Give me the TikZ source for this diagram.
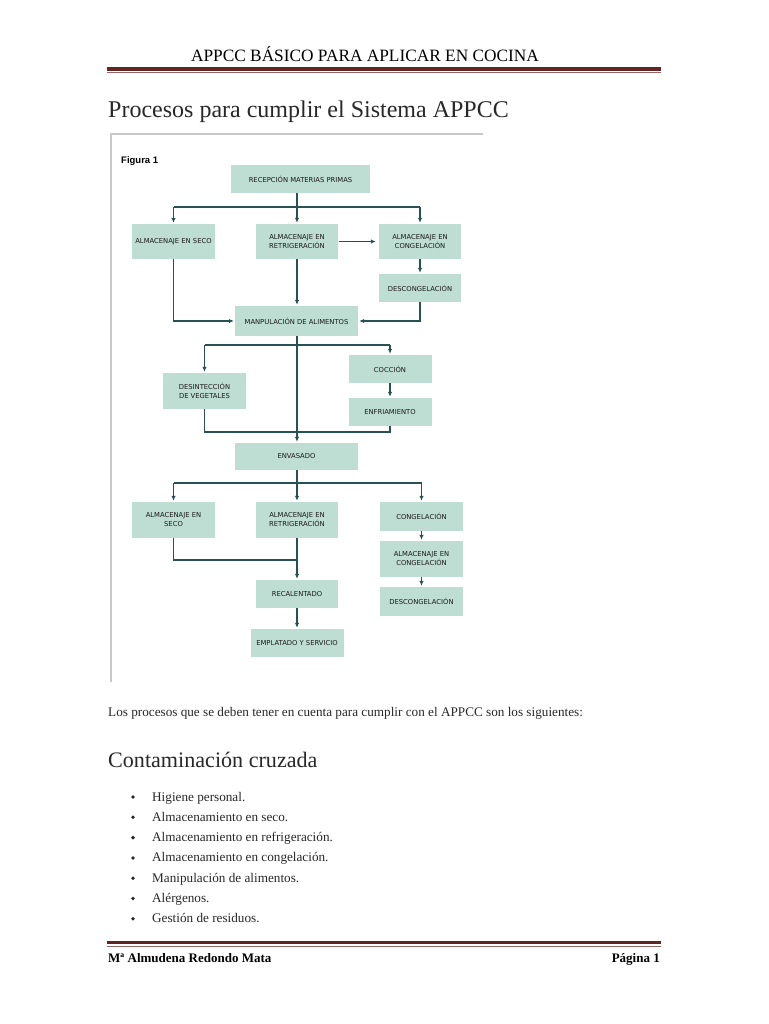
\documentclass[tikz,border=0pt]{standalone}
\usepackage{fontspec}
\setmainfont{Liberation Serif}
\newfontfamily\boxfont{DejaVu Sans}
\newfontfamily\figfont{Liberation Sans}
\usetikzlibrary{arrows.meta}
\definecolor{boxfill}{RGB}{190,221,211}
\definecolor{boxtext}{RGB}{25,25,25}
\definecolor{arrowc}{RGB}{40,82,82}
\definecolor{rulec}{RGB}{99,36,35}
\definecolor{bodytext}{RGB}{40,40,40}
\definecolor{framec}{RGB}{200,200,200}
\begin{document}
\begin{tikzpicture}[x=1pt,y=-1pt,
  box/.style={fill=boxfill, draw=none, inner sep=0pt, align=center,
    font=\boxfont\fontsize{6.8}{9}\selectfont, text=boxtext},
  conn/.style={draw=arrowc, line width=1.2pt},
  arrw/.style={conn, -{Latex[length=5pt,width=4.5pt]}, shorten >=1pt},
  txt/.style={inner sep=0pt, anchor=base west, text=bodytext},
]
\fill[white] (0,0) rectangle (768,1024);
\useasboundingbox (0,0) rectangle (768,1024);

% header
\node[inner sep=0pt, anchor=base, font=\fontsize{17.3}{19}\selectfont] (head) at (365,62) {APPCC BÁSICO PARA APLICAR EN COCINA};
\fill[rulec] (107,67) rectangle (661,71);
\fill[rulec!70] (107,72) rectangle (661,73);

% title
\node[txt, font=\fontsize{24}{28}\selectfont] (title) at (108,118) {Procesos para cumplir el Sistema APPCC};

% figure frame
\draw[framec, line width=1.2pt] (111,682) -- (111,134) -- (483,134);
\node[txt, text=black, font=\figfont\bfseries\fontsize{9.5}{11}\selectfont] (fig) at (121,164) {Figura 1};

% boxes
\node[box, minimum width=139pt, minimum height=28pt] (rec) at (300.5,179) {RECEPCIÓN MATERIAS PRIMAS};
\node[box, minimum width=83pt, minimum height=35pt] (seco1) at (173.5,241.5) {ALMACENAJE EN SECO};
\node[box, minimum width=82pt, minimum height=35pt] (refr1) at (297,241.5) {ALMACENAJE EN\\RETRIGERACIÓN};
\node[box, minimum width=82pt, minimum height=35pt] (cong1) at (420,241.5) {ALMACENAJE EN\\CONGELACIÓN};
\node[box, minimum width=82pt, minimum height=28pt] (desc1) at (420,288) {DESCONGELACIÓN};
\node[box, minimum width=123pt, minimum height=30pt] (manip) at (296.5,321) {MANPULACIÓN DE ALIMENTOS};
\node[box, minimum width=83pt, minimum height=36pt] (desinf) at (204.5,391) {DESINTECCIÓN\\DE VEGETALES};
\node[box, minimum width=83pt, minimum height=28pt] (cocc) at (390,369) {COCCIÓN};
\node[box, minimum width=83pt, minimum height=28pt] (enfr) at (390,412) {ENFRIAMIENTO};
\node[box, minimum width=123pt, minimum height=27pt] (envas) at (296.5,456.5) {ENVASADO};
\node[box, minimum width=83pt, minimum height=36pt] (seco2) at (173.5,520) {ALMACENAJE EN\\SECO};
\node[box, minimum width=82pt, minimum height=36pt] (refr2) at (297,520) {ALMACENAJE EN\\RETRIGERACIÓN};
\node[box, minimum width=83pt, minimum height=29pt] (cong2) at (421.5,516.5) {CONGELACIÓN};
\node[box, minimum width=83pt, minimum height=36pt] (almc2) at (421.5,559) {ALMACENAJE EN\\CONGELACIÓN};
\node[box, minimum width=83pt, minimum height=29pt] (desc2) at (421.5,601.5) {DESCONGELACIÓN};
\node[box, minimum width=82pt, minimum height=28pt] (recal) at (297,594) {RECALENTADO};
\node[box, minimum width=93pt, minimum height=28pt] (empl) at (297,643) {EMPLATADO Y SERVICIO};

% junction coordinates
\coordinate (j1) at (0,207);
\coordinate (j2) at (0,345);
\coordinate (j3) at (0,432);
\coordinate (j4) at (0,483);
\coordinate (j5) at (0,560);

% connectors top
\draw[arrw] (rec.south -| refr1.north) -- (refr1.north);
\draw[conn] (seco1.north |- j1) -- (cong1.north |- j1);
\draw[arrw] (seco1.north |- j1) -- (seco1.north);
\draw[arrw] (cong1.north |- j1) -- (cong1.north);
\draw[arrw, shorten >=3pt, shorten <=1pt] (refr1.east) -- (cong1.west);
\draw[arrw] (cong1.south) -- (desc1.north);
\draw[arrw] (seco1.south) |- (manip.west);
\draw[arrw] (refr1.south) -- (refr1.south |- manip.north);
\draw[arrw] (desc1.south) |- (manip.east);

% middle
\draw[arrw] (manip.south -| refr1.south) -- (envas.north -| refr1.south);
\draw[conn] (desinf.north |- j2) -- (cocc.north |- j2);
\draw[arrw] (desinf.north |- j2) -- (desinf.north);
\draw[arrw] (cocc.north |- j2) -- (cocc.north);
\draw[arrw] (cocc.south) -- (enfr.north);
\draw[conn] (desinf.south) -- (desinf.south |- j3) -- (enfr.south |- j3) -- (enfr.south);

% bottom
\draw[conn] (envas.south -| refr2.north) -- (refr2.north |- j4);
\draw[conn] (seco2.north |- j4) -- (cong2.north |- j4);
\draw[arrw] (seco2.north |- j4) -- (seco2.north);
\draw[arrw] (refr2.north |- j4) -- (refr2.north);
\draw[arrw] (cong2.north |- j4) -- (cong2.north);
\draw[arrw] (cong2.south) -- (almc2.north);
\draw[arrw] (almc2.south) -- (desc2.north);
\draw[conn] (seco2.south) -- (seco2.south |- j5) -- (refr2.south |- j5);
\draw[arrw] (refr2.south) -- (recal.north);
\draw[arrw] (recal.south) -- (empl.north);

% body text
\node[txt, font=\fontsize{13.2}{15}\selectfont] (intro) at (108,716) {Los procesos que se deben tener en cuenta para cumplir con el APPCC son los siguientes:};
\node[txt, font=\fontsize{22.1}{25}\selectfont] (h2) at (108,767) {Contaminación cruzada};

\foreach \t [count=\i from 0] in {Higiene personal., Almacenamiento en seco., Almacenamiento en refrigeración., Almacenamiento en congelación., Manipulación de alimentos., Alérgenos., Gestión de residuos.}{
  \node[txt, font=\fontsize{13.2}{15}\selectfont] (b\i) at (152,{801+20.3*\i}) {\t};
  \fill[bodytext] (133,{797+20.3*\i}) circle (1.9pt);
}

% footer
\fill[rulec] (107,940.5) rectangle (661,944);
\fill[rulec!70] (107,945.5) rectangle (661,946.5);
\node[txt, text=black, font=\bfseries\fontsize{13}{15}\selectfont] (auth) at (108,962) {Mª Almudena Redondo Mata};
\node[inner sep=0pt, anchor=base east, text=black, font=\bfseries\fontsize{13}{15}\selectfont] (page) at (660,962) {Página 1};
\end{tikzpicture}
\end{document}
